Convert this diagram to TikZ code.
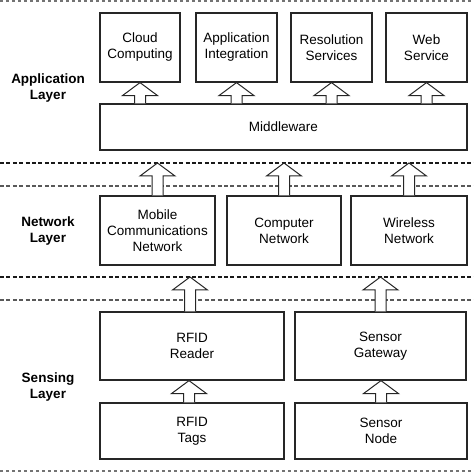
\documentclass[tikz,border=0pt]{standalone}
\usepackage{fontspec}
\setmainfont{Liberation Sans}
\usetikzlibrary{calc}
\tikzset{
  box/.style={draw=black!85, line width=1.2pt, fill=white, align=center, inner sep=0pt,
    font=\fontsize{13.5}{16}\selectfont},
  layerlabel/.style={align=center, font=\fontsize{13.5}{16}\selectfont\bfseries},
  harrow/.style={draw=black!85, line width=1pt, fill=white, line join=miter},
  sepblack/.style={draw=black!90, line width=1.8pt, dash pattern=on 4pt off 2.4pt},
  sepgray/.style={draw=black!65, line width=1.8pt, dash pattern=on 4pt off 2.4pt},
  sepedge/.style={draw=black!55, line width=2.4pt, dash pattern=on 3pt off 3pt},
}
\newcommand\hollowup[2]{%
  \path[harrow] let \p1=(#1), \p2=(#2) in
    (\x1-5.5pt,\y1) -- (\x1-5.5pt,\y2-13pt) -- (\x1-17.5pt,\y2-13pt) -- (\x1,\y2)
    -- (\x1+17.5pt,\y2-13pt) -- (\x1+5.5pt,\y2-13pt) -- (\x1+5.5pt,\y1);}
\begin{document}
\begin{tikzpicture}[x=1pt,y=1pt]
\useasboundingbox (0,0) rectangle (474,474);
% separators
\draw[sepedge] (0,473) -- (474,473);
\draw[sepedge] (0,3) -- (474,3);
\draw[sepblack] (0,311) -- (474,311);
\draw[sepgray] (0,288) -- (474,288);
\draw[sepblack] (0,197) -- (474,197);
\draw[sepgray] (0,174) -- (474,174);
\coordinate (d1) at (0,311);
\coordinate (d3) at (0,197);
% application layer
\node[box, minimum width=80pt, minimum height=69pt] (cc) at (140,426.5) {Cloud\\Computing};
\node[box, minimum width=81pt, minimum height=69pt] (ai) at (236.5,426.5) {Application\\Integration};
\node[box, minimum width=81pt, minimum height=69pt] (rs) at (331.5,426.5) {Resolution\\Services};
\node[box, minimum width=81pt, minimum height=69pt] (ws) at (426.5,426.5) {Web\\Service};
\node[box, minimum width=367pt, minimum height=46pt] (mw) at (283.5,347) {Middleware};
% network layer
\node[box, minimum width=115pt, minimum height=69pt] (mcn) at (157.5,243.5) {Mobile\\Communications\\Network};
\node[box, minimum width=114pt, minimum height=69pt] (cn) at (284,243.5) {Computer\\Network};
\node[box, minimum width=116pt, minimum height=69pt] (wn) at (409,243.5) {Wireless\\Network};
% sensing layer
\node[box, minimum width=184pt, minimum height=68pt] (rr) at (192,128) {RFID\\Reader};
\node[box, minimum width=171pt, minimum height=68pt] (sg) at (380.5,128) {Sensor\\Gateway};
\node[box, minimum width=184pt, minimum height=56pt] (rt) at (192,43) {RFID\\Tags};
\node[box, minimum width=172pt, minimum height=56pt] (sn) at (381,43) {Sensor\\Node};
% layer labels
\node[layerlabel] (la) at (48,386) {Application\\Layer};
\node[layerlabel] (ln) at (48,243) {Network\\Layer};
\node[layerlabel] (ls) at (48,87) {Sensing\\Layer};
% arrows
\hollowup{$(cc.south |- mw.north)$}{cc.south}
\hollowup{$(ai.south |- mw.north)$}{ai.south}
\hollowup{$(rs.south |- mw.north)$}{rs.south}
\hollowup{$(ws.south |- mw.north)$}{ws.south}
\hollowup{mcn.north}{$(mcn.north |- d1)$}
\hollowup{cn.north}{$(cn.north |- d1)$}
\hollowup{wn.north}{$(wn.north |- d1)$}
\hollowup{$(rr.north)+(-2,0)$}{$(rr.north |- d3)+(-2,0)$}
\hollowup{sg.north}{$(sg.north |- d3)$}
\hollowup{$(rt.north)+(-3,0)$}{$(rr.south)+(-3,0)$}
\hollowup{sn.north}{$(sn.north |- sg.south)$}
\end{tikzpicture}
\end{document}
